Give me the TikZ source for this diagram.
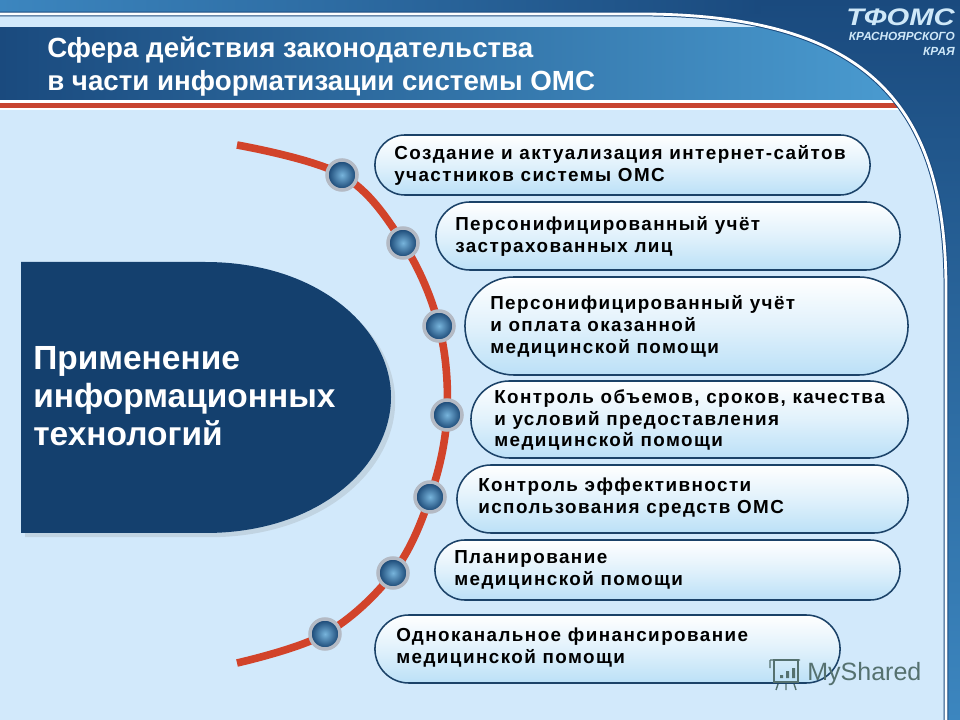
\documentclass[tikz,border=0pt]{standalone}
\usepackage{fontspec}
\setmainfont{Liberation Sans}
\newfontfamily\spacedfont[LetterSpace=7.6]{Liberation Sans}
\newfontfamily\logofont[FakeStretch=1.22]{Liberation Sans}
\usetikzlibrary{shapes.misc,shadows}
\definecolor{navy}{HTML}{14406E}
\definecolor{deep}{HTML}{1A4A7E}
\definecolor{steel}{HTML}{3C86BF}
\definecolor{bright}{HTML}{4A9BD0}
\definecolor{paper}{HTML}{D2E9FB}
\definecolor{stripe}{HTML}{C8442F}
\definecolor{arcred}{HTML}{D2432A}
\definecolor{boxline}{HTML}{1B4268}
\definecolor{boxlow}{HTML}{BBE0F7}
\definecolor{logoblue}{HTML}{CFE8F8}
\definecolor{ring}{HTML}{B4BAC4}
\definecolor{brandgrey}{HTML}{55716F}
\begin{document}
\begin{tikzpicture}[x=0.025cm,y=-0.025cm,
  bullet/.style={circle,draw=ring,line width=2.5pt,minimum size=0.75cm,inner sep=0pt,
    inner color=bright!75!white,outer color=navy},
  stepbox/.style={rounded rectangle,draw=boxline,line width=1.1pt,top color=white,
    bottom color=boxlow,middle color=boxlow!45!white,inner sep=0pt},
  steptext/.style={anchor=west,align=left,inner sep=0pt,text=black,
    font=\fontsize{13.4}{15.6}\spacedfont\bfseries}]
\useasboundingbox (0,0) rectangle (960,720);
% back
\shade[top color=deep,bottom color=steel] (0,0) rectangle (960,720);
\shade[left color=steel,right color=deep] (0,0) rectangle (760,14);
% panel
\scope
\clip (0,14) -- (640,14) .. controls (873,14) and (946,110) .. (946,290) -- (946,720) -- (0,720) -- cycle;
\fill[paper] (0,0) rectangle (960,720);
\shade[left color=deep,right color=bright] (0,28) rectangle (900,100);
\fill[white] (0,100) rectangle (960,110);
\fill[stripe] (0,103) rectangle (960,108);
\endscope
% outline
\draw[deep,line width=3.4pt] (0,14) -- (640,14) .. controls (873,14) and (946,110) .. (946,290) -- (946,720);
\draw[white,line width=2pt] (0,14) -- (640,14) .. controls (873,14) and (946,110) .. (946,290) -- (946,720);
% title
\node (title) [anchor=west,align=left,inner sep=0pt,text=white,
  font=\fontsize{19.7}{23.5}\selectfont\bfseries] at (47,67)
  {Сфера действия законодательства\\в части информатизации системы ОМС};
% logo
\node (logo) [anchor=east,inner sep=0pt,text=logoblue,
  font=\fontsize{17}{17}\logofont\bfseries\itshape] at (955,17) {ТФОМС};
\node (region) [anchor=north east,align=right,inner sep=0pt,text=logoblue,
  font=\fontsize{8.4}{10.7}\selectfont\bfseries\itshape] at (955,32) {КРАСНОЯРСКОГО\\КРАЯ};
% left block
\fill[navy,drop shadow={opacity=.2,shadow xshift=3pt,shadow yshift=-3pt}]
  (21,262) -- (205,262) .. controls (320,262) and (391,330) .. (391,397)
  .. controls (391,465) and (320,533) .. (205,533) -- (21,533) -- cycle;
\node (lead) [anchor=west,align=left,inner sep=0pt,text=white,
  font=\fontsize{23.8}{27}\selectfont\bfseries] at (33,396)
  {Применение\\информационных\\технологий};
% arc
\coordinate (b1) at (342,175);
\coordinate (b2) at (403,243);
\coordinate (b3) at (439,326);
\coordinate (b4) at (447,415);
\coordinate (b5) at (430,497);
\coordinate (b6) at (393,573);
\coordinate (b7) at (325,634);
\draw[arcred,line width=5.4pt] plot[smooth,tension=.6] coordinates
  {(237,145) (b1) (b2) (b3) (b4) (b5) (b6) (b7) (237,663)};
\node (n1) [bullet] at (b1) {};
\node (n2) [bullet] at (b2) {};
\node (n3) [bullet] at (b3) {};
\node (n4) [bullet] at (b4) {};
\node (n5) [bullet] at (b5) {};
\node (n6) [bullet] at (b6) {};
\node (n7) [bullet] at (b7) {};
% boxes
\node (s1) [stepbox,minimum width=12.375cm,minimum height=1.5cm] at (622.5,165) {};
\node (s2) [stepbox,minimum width=11.6cm,minimum height=1.7cm] at (668,236) {};
\node (s3) [stepbox,minimum width=11.075cm,minimum height=2.45cm] at (686.5,326) {};
\node (s4) [stepbox,minimum width=10.925cm,minimum height=1.925cm] at (689.5,419.5) {};
\node (s5) [stepbox,minimum width=11.275cm,minimum height=1.7cm] at (682.5,499) {};
\node (s6) [stepbox,minimum width=11.625cm,minimum height=1.5cm] at (667.5,570) {};
\node (s7) [stepbox,minimum width=11.625cm,minimum height=1.7cm] at (607.5,649) {};
\node (t1) [steptext] at (394,165) {Создание и актуализация интернет-сайтов\\участников системы ОМС};
\node (t2) [steptext] at (455,236) {Персонифицированный учёт\\застрахованных лиц};
\node (t3) [steptext] at (490,326) {Персонифицированный учёт\\и оплата оказанной\\медицинской помощи};
\node (t4) [steptext] at (494,420) {Контроль объемов, сроков, качества\\и условий предоставления\\медицинской помощи};
\node (t5) [steptext] at (478,498) {Контроль эффективности\\использования средств ОМС};
\node (t6) [steptext] at (454,570) {Планирование\\медицинской помощи};
\node (t7) [steptext] at (396,648) {Одноканальное финансирование\\медицинской помощи};
% watermark
\node (brand) [anchor=west,inner sep=0pt,text=brandgrey,font=\fontsize{17.8}{17.8}\selectfont] at (807,674) {MyShared};
\draw[brandgrey,line width=1pt] (774,660) rectangle (798,682);
\fill[brandgrey] (780,675) rectangle (783,678) (786,671) rectangle (789,678) (792,668) rectangle (795,678);
\draw[brandgrey,line width=1pt] (770,660) -- (770,668) (770,660) -- (800,660) (778,684) -- (776,690) (786,684) -- (786,690) (794,684) -- (796,690);
\end{tikzpicture}
\end{document}
